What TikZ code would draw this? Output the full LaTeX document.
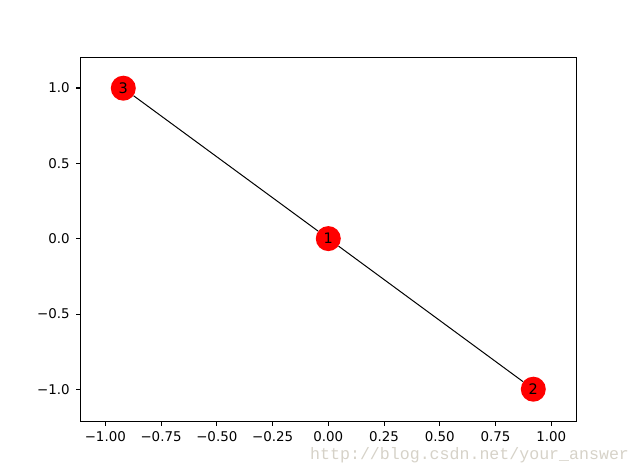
\documentclass[tikz,border=0pt]{standalone}
\usepackage{fontspec}
\setmainfont{DejaVu Sans}
\newfontfamily\wmfont{Liberation Mono}
\begin{document}
\begin{tikzpicture}[x=1pt,y=-1pt,
  vertex/.style={circle,fill=red,draw=none,minimum size=25pt,inner sep=0pt,
    font=\fontsize{14.5}{14.5}\selectfont},
  edge/.style={draw=black,line width=1pt},
  spine/.style={draw=black,line width=1.1pt},
  tick/.style={draw=black,line width=1.1pt},
  ticklabel/.style={inner sep=0pt,font=\fontsize{13.4}{13.4}\selectfont},
  watermark/.style={inner sep=0pt,anchor=base west,text={rgb,255:red,214;green,210;blue,200},
    font=\wmfont\fontsize{16.6}{16.6}\selectfont}]
\useasboundingbox (0,0) rectangle (640,473);
% axes frame
\draw[spine] (80.5,57.5) rectangle (576.5,421.5);
% x ticks
\foreach \v/\t in {-1/{−1.00},-0.75/{−0.75},-0.5/{−0.50},-0.25/{−0.25},0/{0.00},0.25/{0.25},0.5/{0.50},0.75/{0.75},1/{1.00}}{
  \draw[tick] ({328.3+223*\v},421.5) -- ({328.3+223*\v},426.4);
  \node[ticklabel,anchor=base] at ({328.3+223*\v},441.7) {\t};
}
% y ticks
\foreach \v/\t in {1/{1.0},0.5/{0.5},0/{0.0},-0.5/{−0.5},-1/{−1.0}}{
  \draw[tick] (80.5,{238.8-150.8*\v}) -- (75.6,{238.8-150.8*\v});
  \node[ticklabel,anchor=base east] at (69.8,{238.8-150.8*\v+4.7}) {\t};
}
% graph
\node[vertex] (n1) at (328.3,238.6) {1};
\node[vertex] (n2) at (533.3,389.2) {2};
\node[vertex] (n3) at (123.3,88.2) {3};
\draw[edge] (n3) -- (n1);
\draw[edge] (n1) -- (n2);
% watermark
\node[watermark] (wm) at (310,459) {http://blog.csdn.net/your\_answer};
\end{tikzpicture}
\end{document}
